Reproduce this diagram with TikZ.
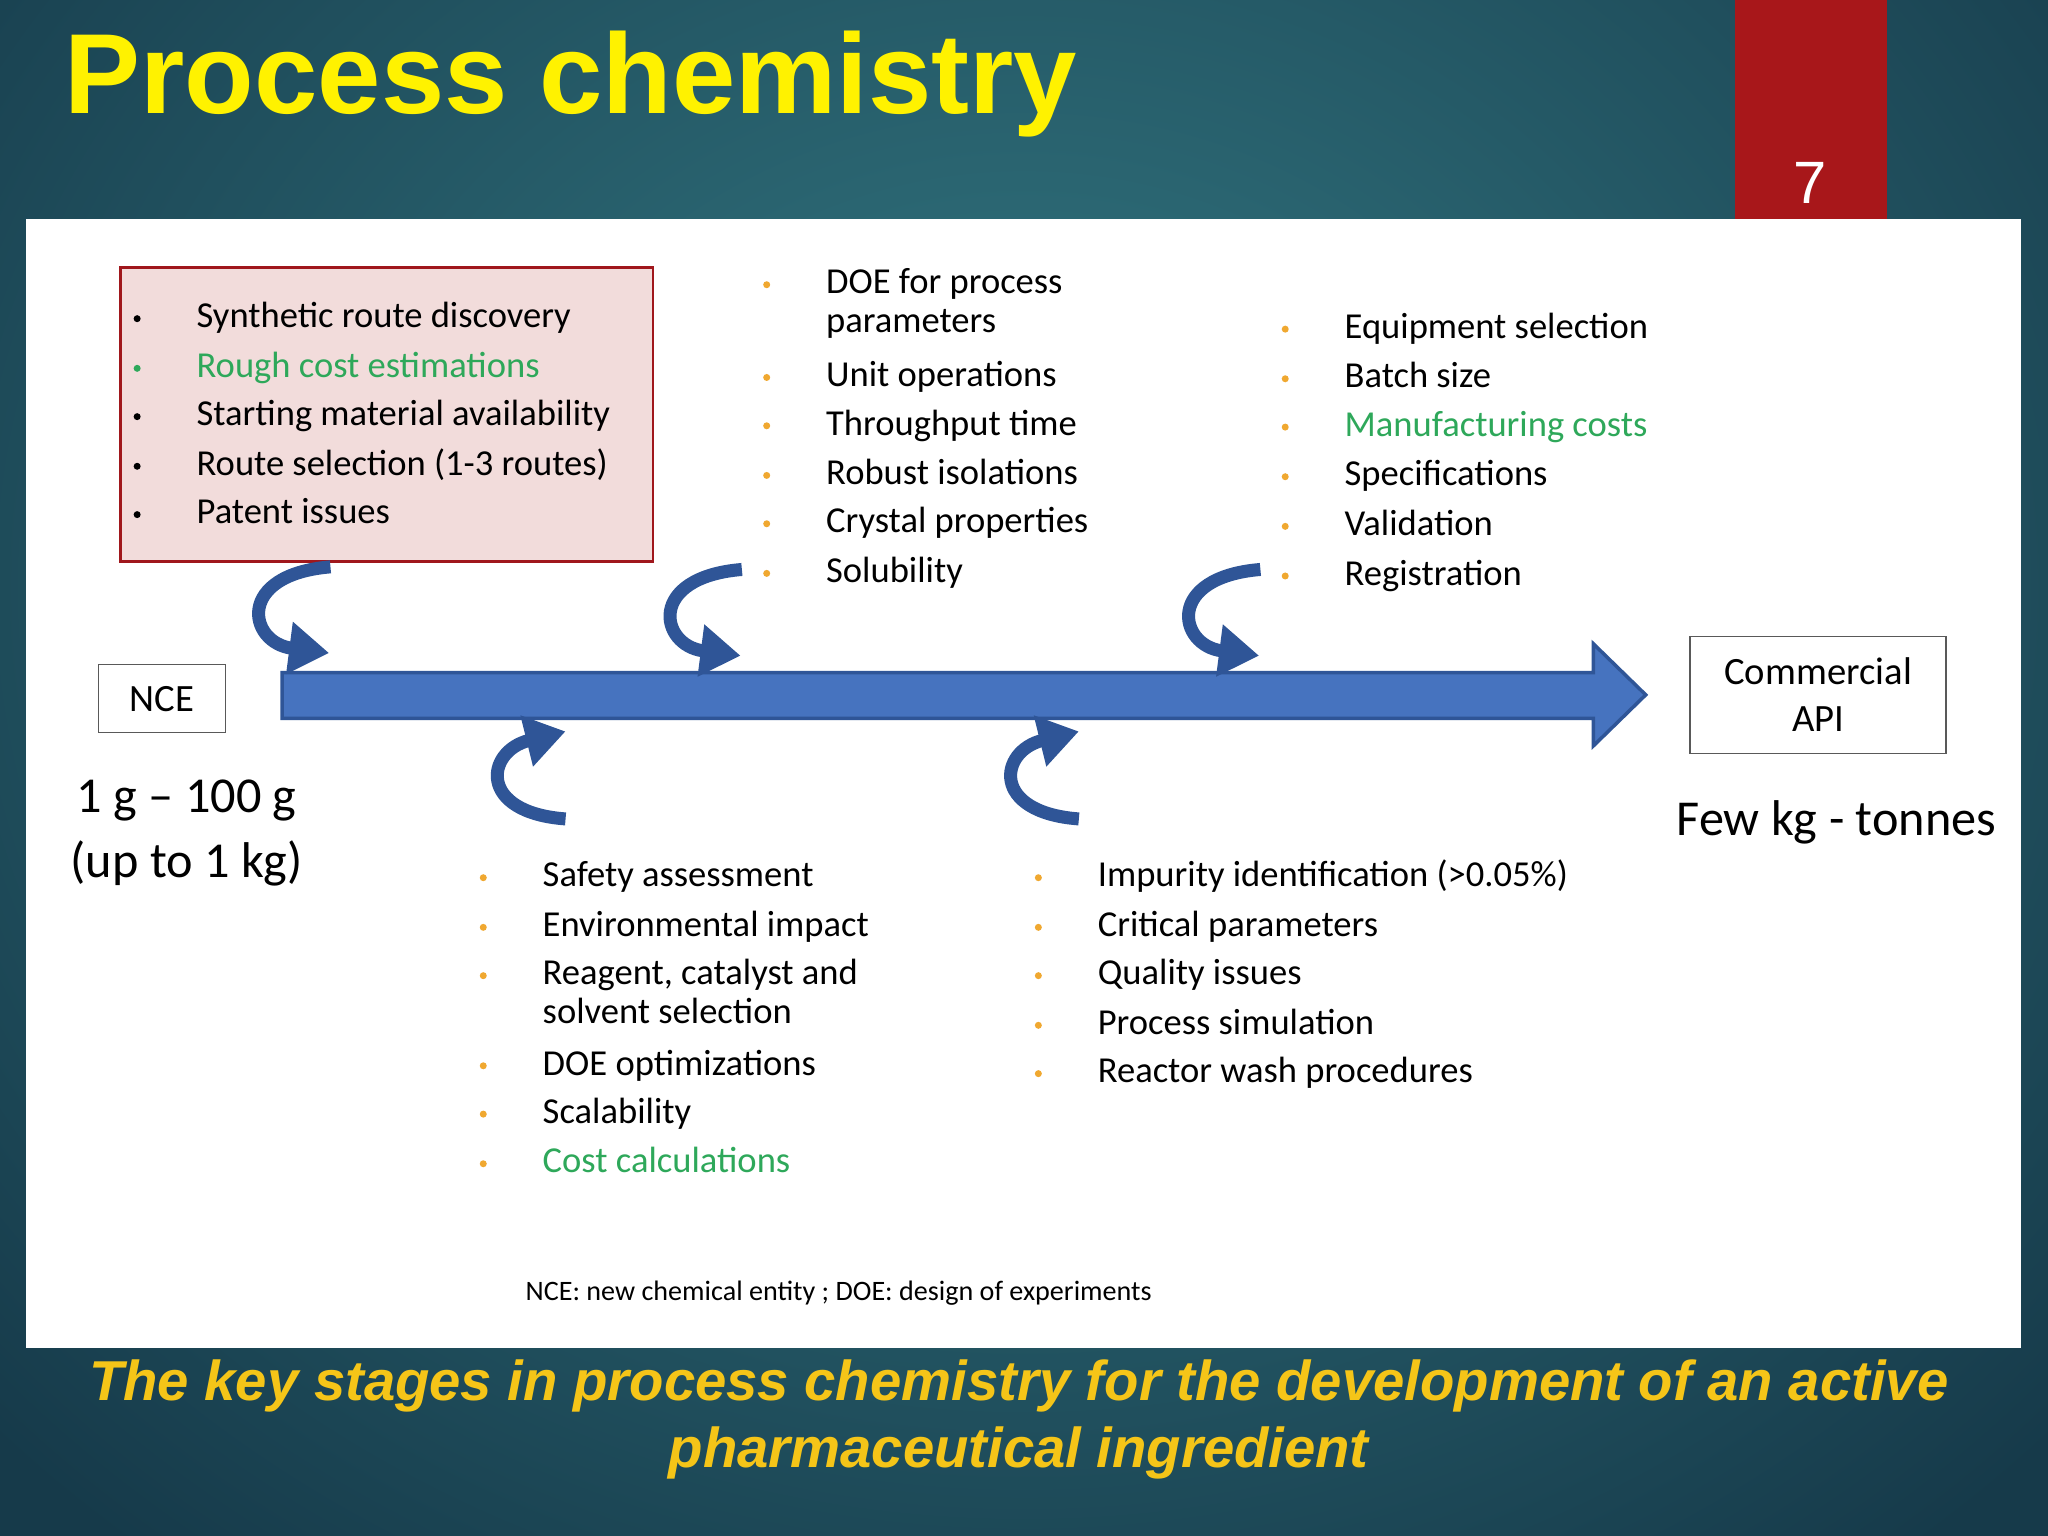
\documentclass[tikz,border=0pt]{standalone}
\usepackage{fontspec}
\setmainfont{Carlito}
\newfontfamily\headfont{Liberation Sans}
\usetikzlibrary{arrows.meta}
\definecolor{bgin}{HTML}{347A84}
\definecolor{bgout}{HTML}{163A4A}
\definecolor{slidered}{HTML}{A8171A}
\definecolor{boxpink}{HTML}{F2DCDB}
\definecolor{boxred}{HTML}{A0171C}
\definecolor{mainblue}{HTML}{4673BF}
\definecolor{darkblue}{HTML}{2F5597}
\definecolor{itemgreen}{HTML}{2EA85A}
\definecolor{dotorange}{HTML}{F0A830}
\definecolor{capyellow}{HTML}{F5C518}
\newcommand{\listitem}[5]{% name, x, y, colour, text
  \node[bullet, fill=#4] at (#2-45,#3) {};
  \node[entry] (#1) at (#2,#3) {#5};}
\begin{document}
\begin{tikzpicture}[x=0.013061cm, y=-0.013061cm,
    entry/.style={anchor=west, inner sep=0pt, text height=1.5ex, text depth=0.4ex, font=\fontsize{10.4}{12}\selectfont},
    bullet/.style={circle, inner sep=0pt, minimum size=0.07cm},
    label box/.style={draw=gray!70!black, fill=white, font=\fontsize{11}{13.5}\selectfont, align=center},
    big/.style={font=\fontsize{14.3}{18.5}\selectfont, align=center},
    turn/.style={draw=darkblue, line width=0.13cm, -{Triangle[length=0.4cm, width=0.5cm]}}]
\useasboundingbox (0,0) rectangle (1568,1176);
\fill[bgout] (0,0) rectangle (1568,1176);
\shade[inner color=bgin, outer color=bgout] (-300,-500) rectangle (1868,1400);
\fill[slidered] (1328,0) rectangle (1445,168);
\node[text=white, font=\headfont\fontsize{17}{20}\selectfont] (num) at (1386,140) {7};
\node[anchor=west, text=yellow, font=\headfont\bfseries\fontsize{32.4}{36}\selectfont] (title) at (40,64) {Process chemistry};
\fill[white] (20,168) rectangle (1547,1032);
% discovery box
\draw[draw=boxred, fill=boxpink, line width=0.8pt] (92,205) rectangle (500,430);
\listitem{d1}{150}{244}{black}{Synthetic route discovery}
\listitem{d2}{150}{282}{itemgreen}{\textcolor{itemgreen}{Rough cost estimations}}
\listitem{d3}{150}{319}{black}{Starting material availability}
\listitem{d4}{150}{357}{black}{Route selection (1-3 routes)}
\listitem{d5}{150}{394}{black}{Patent issues}
% development items
\node[bullet, fill=dotorange] at (587,218) {};
\node[entry, align=left, anchor=north west, text height=, text depth=] (p1) at (632,205) {DOE for process\\[-1pt]parameters};
\listitem{p2}{632}{289}{dotorange}{Unit operations}
\listitem{p3}{632}{326}{dotorange}{Throughput time}
\listitem{p4}{632}{364}{dotorange}{Robust isolations}
\listitem{p5}{632}{401}{dotorange}{Crystal properties}
\listitem{p6}{632}{439}{dotorange}{Solubility}
% manufacturing items
\listitem{m1}{1029}{252}{dotorange}{Equipment selection}
\listitem{m2}{1029}{290}{dotorange}{Batch size}
\listitem{m3}{1029}{327}{dotorange}{\textcolor{itemgreen}{Manufacturing costs}}
\listitem{m4}{1029}{365}{dotorange}{Specifications}
\listitem{m5}{1029}{403}{dotorange}{Validation}
\listitem{m6}{1029}{441}{dotorange}{Registration}
% lower left items
\listitem{s1}{415}{672}{dotorange}{Safety assessment}
\listitem{s2}{415}{710}{dotorange}{Environmental impact}
\node[bullet, fill=dotorange] at (370,747) {};
\node[entry, align=left, anchor=north west, text height=, text depth=] (s3) at (415,734) {Reagent, catalyst and\\[-1pt]solvent selection};
\listitem{s4}{415}{816}{dotorange}{DOE optimizations}
\listitem{s5}{415}{853}{dotorange}{Scalability}
\listitem{s6}{415}{891}{dotorange}{\textcolor{itemgreen}{Cost calculations}}
% lower right items
\listitem{q1}{840}{672}{dotorange}{Impurity identification (>0.05\%)}
\listitem{q2}{840}{710}{dotorange}{Critical parameters}
\listitem{q3}{840}{747}{dotorange}{Quality issues}
\listitem{q4}{840}{785}{dotorange}{Process simulation}
\listitem{q5}{840}{822}{dotorange}{Reactor wash procedures}
% main arrow
\draw[draw=darkblue, fill=mainblue, line width=1pt]
  (216,515) -- (1220,515) -- (1220,493) -- (1260,532) -- (1220,571) -- (1220,550) -- (216,550) -- cycle;
\node[label box, minimum width=1.27cm, minimum height=0.68cm] (nce) at (124,535) {NCE};
\node[label box, minimum width=2.56cm, minimum height=1.17cm] (api) at (1392,532) {Commercial\\API};
\node[big] (small) at (143,638) {1 g -- 100 g\\(up to 1 kg)};
\node[big] (large) at (1406,630) {Few kg - tonnes};
% turning arrows
\draw[turn] (253,434) .. controls (180,440) and (190,492) .. (252,500);
\draw[turn] (568,436) .. controls (495,442) and (505,494) .. (567,502);
\draw[turn] (965,436) .. controls (892,442) and (902,494) .. (964,502);
\draw[turn] (433,627) .. controls (365,622) and (372,575) .. (433,560);
\draw[turn] (826,627) .. controls (758,622) and (765,575) .. (826,560);
\node[anchor=west, font=\fontsize{8}{9}\selectfont] (note) at (393,990) {NCE: new chemical entity ; DOE: design of experiments};
\node[align=center, text=capyellow, font=\headfont\bfseries\itshape\fontsize{16}{19}\selectfont] (cap) at (780,1087)
  {The key stages in process chemistry for the development of an active\\pharmaceutical ingredient};
\end{tikzpicture}
\end{document}
